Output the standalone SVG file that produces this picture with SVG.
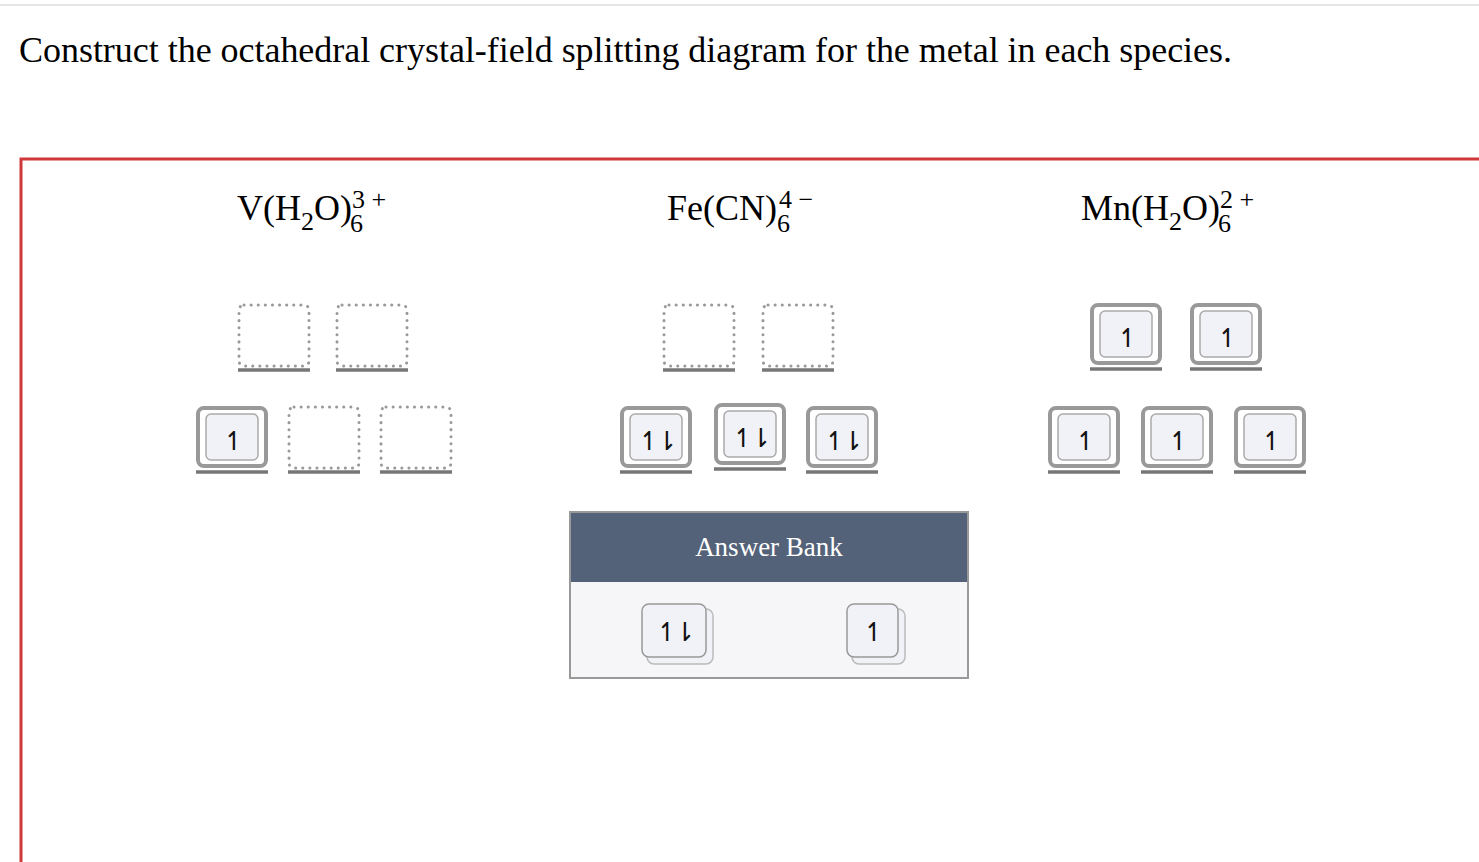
<svg xmlns="http://www.w3.org/2000/svg" width="1479" height="862" viewBox="0 0 1479 862">
<style>
.t{font-family:"Liberation Serif",serif;fill:#000}
.d{fill:none;stroke:#999;stroke-width:3;stroke-dasharray:0.1 7;stroke-linecap:round}
.u{stroke:#777;stroke-width:3.5}
.o{fill:#fff;stroke:#999;stroke-width:4}
.i{fill:#f1f2f7;stroke:#aaa;stroke-width:1.5}
.l{font-family:"DejaVu Sans","Liberation Sans",sans-serif;font-size:26px;fill:#111;text-anchor:middle;letter-spacing:-4px}
</style>
<defs>
<g id="empty"><rect class="d" x="1" y="1" width="70" height="61" rx="5"/><line class="u" x1="0" y1="66" x2="72" y2="66"/></g>
<g id="full"><rect class="o" x="2" y="2" width="68" height="58" rx="6"/><rect class="i" x="10" y="8" width="52" height="46" rx="5"/><line class="u" x1="0" y1="66" x2="72" y2="66"/></g>
</defs>
<rect width="1479" height="862" fill="#fff"/>
<line x1="0" y1="5" x2="1479" y2="5" stroke="#e6e6e6" stroke-width="2"/>
<text class="t" x="19" y="62" font-size="36" textLength="1213">Construct the octahedral crystal-field splitting diagram for the metal in each species.</text>
<path d="M21 862V159H1479" fill="none" stroke="#d0393a" stroke-width="3"/>
<g id="v">
<text class="t" x="237" y="220" font-size="36">V(H<tspan font-size="26" dy="10">2</tspan><tspan dy="-10">O)</tspan><tspan font-size="26" dx="-2" dy="12">6</tspan><tspan font-size="26" dx="-11" dy="-24">3 +</tspan></text>
<use href="#empty" x="238" y="304"/><use href="#empty" x="336" y="304"/>
<use href="#full" x="196" y="406"/><text class="l" x="232" y="450">↿</text>
<use href="#empty" x="288" y="406"/><use href="#empty" x="380" y="406"/>
</g>
<g id="fe">
<text class="t" x="667" y="220" font-size="36">Fe(CN)<tspan font-size="26" dy="12">6</tspan><tspan font-size="26" dx="-11" dy="-24">4 −</tspan></text>
<use href="#empty" x="663" y="304"/><use href="#empty" x="762" y="304"/>
<use href="#full" x="620" y="406"/><text class="l" x="656" y="450">↿⇂</text>
<use href="#full" x="714" y="403"/><text class="l" x="750" y="447">↿⇂</text>
<use href="#full" x="806" y="406"/><text class="l" x="842" y="450">↿⇂</text>
</g>
<g id="mn">
<text class="t" x="1081" y="220" font-size="36">Mn(H<tspan font-size="26" dy="10">2</tspan><tspan dy="-10">O)</tspan><tspan font-size="26" dx="-2" dy="12">6</tspan><tspan font-size="26" dx="-11" dy="-24">2 +</tspan></text>
<use href="#full" x="1090" y="303"/><text class="l" x="1126" y="347">↿</text>
<use href="#full" x="1190" y="303"/><text class="l" x="1226" y="347">↿</text>
<use href="#full" x="1048" y="406"/><text class="l" x="1084" y="450">↿</text>
<use href="#full" x="1141" y="406"/><text class="l" x="1177" y="450">↿</text>
<use href="#full" x="1234" y="406"/><text class="l" x="1270" y="450">↿</text>
</g>
<g id="bank">
<rect x="570" y="512" width="398" height="166" fill="#f6f6f8" stroke="#999" stroke-width="2"/>
<rect x="571" y="513" width="396" height="69" fill="#546279"/>
<text class="t" x="769" y="556" font-size="27" style="fill:#fff" text-anchor="middle">Answer Bank</text>
<rect x="647" y="609" width="66" height="55" rx="7" fill="#f1f2f7" stroke="#bbb" stroke-width="1.5"/>
<rect x="642" y="604" width="64" height="53" rx="7" fill="#f1f2f7" stroke="#999" stroke-width="1.5"/>
<text class="l" x="674" y="641">↿⇂</text>
<rect x="852" y="609" width="53" height="55" rx="7" fill="#f1f2f7" stroke="#bbb" stroke-width="1.5"/>
<rect x="847" y="604" width="51" height="53" rx="7" fill="#f1f2f7" stroke="#999" stroke-width="1.5"/>
<text class="l" x="872" y="641">↿</text>
</g>
<g id="connectors"/>
</svg>
